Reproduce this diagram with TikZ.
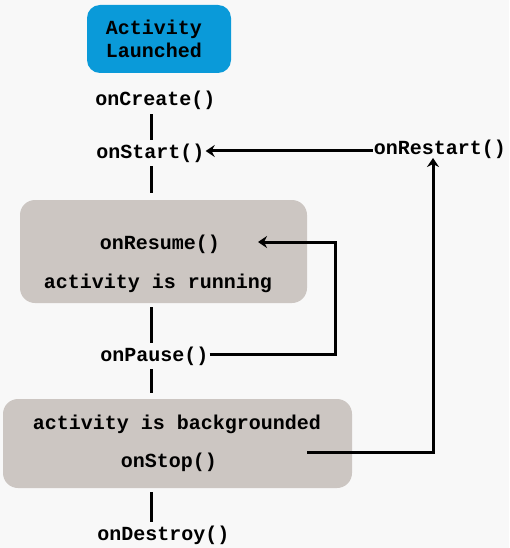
\documentclass[tikz,border=0pt]{standalone}
\usepackage{fontspec}
\setmonofont{Liberation Mono}
\usetikzlibrary{arrows.meta,calc}
\definecolor{bgc}{HTML}{F8F8F8}
\definecolor{launchblue}{HTML}{0A9AD9}
\definecolor{boxgray}{HTML}{CCC6C2}
\begin{document}
\begin{tikzpicture}[x=1pt,y=-1pt,
  txt/.style={font=\ttfamily\bfseries\fontsize{20}{23}\selectfont, inner xsep=1pt, inner ysep=4pt, text height=14pt, text depth=4pt, yshift=-2pt},
  statebox/.style={fill=boxgray, rounded corners=15pt, inner sep=0pt},
  link/.style={line width=3pt},
  arr/.style={line width=3pt, -{Stealth[length=9pt,width=12pt,inset=3pt]}}]
\fill[bgc] (0,0) rectangle (509,548);
\useasboundingbox (0,0) rectangle (509,548);
\coordinate (spine) at (151,0);
% boxes
\node[fill=launchblue, rounded corners=13pt, minimum width=144pt, minimum height=68pt, inner sep=0pt,
      font=\ttfamily\bfseries\fontsize{20}{23}\selectfont, align=left] (launch) at (159,39) {\hspace*{-10pt}Activity\\\hspace*{-10pt}Launched};
\node[statebox, minimum width=287pt, minimum height=103pt] (run) at (163.5,251.5) {};
\node[statebox, minimum width=349pt, minimum height=89pt] (bg) at (177.5,443.5) {};
% texts
\node[txt] (create) at (155.5,99) {onCreate()};
\node[txt] (start) at (150.5,151) {onStart()};
\node[txt] (restart) at (440,148) {onRestart()};
\node[txt] (resume) at (160,242) {onResume()};
\node[txt] (running) at (158,281) {activity is running};
\node[txt] (pause) at (154.5,354) {onPause()};
\node[txt] (backg) at (177,422) {activity is backgrounded};
\node[txt] (stop) at (169,460) {onStop()};
\node[txt] (destroy) at (163.5,533) {onDestroy()};
% free ends
\coordinate (resumein) at (258,242);
\coordinate (loopR) at (335,242);
\coordinate (stopout) at (307,452);
\coordinate (restartin) at (433,158);
\coordinate (startrow) at (0,151);
\coordinate (pauserow) at (0,354);
% connectors
\draw[link] (create.south -| spine) -- (start.north -| spine);
\draw[link, shorten >=7pt] (start.south -| spine) -- (run.north -| spine);
\draw[link, shorten <=4pt] (run.south -| spine) -- (pause.north -| spine);
\draw[link, shorten >=6pt] (pause.south -| spine) -- (bg.north -| spine);
\draw[link, shorten <=4pt] (bg.south -| spine) -- (destroy.north -| spine);
\draw[arr] (restart.west |- startrow) -- (start.east |- startrow);
\draw[arr] (pause.east |- pauserow) -| (loopR) -- (resumein);
\draw[arr] (stopout) -| (restartin);
\end{tikzpicture}
\end{document}
